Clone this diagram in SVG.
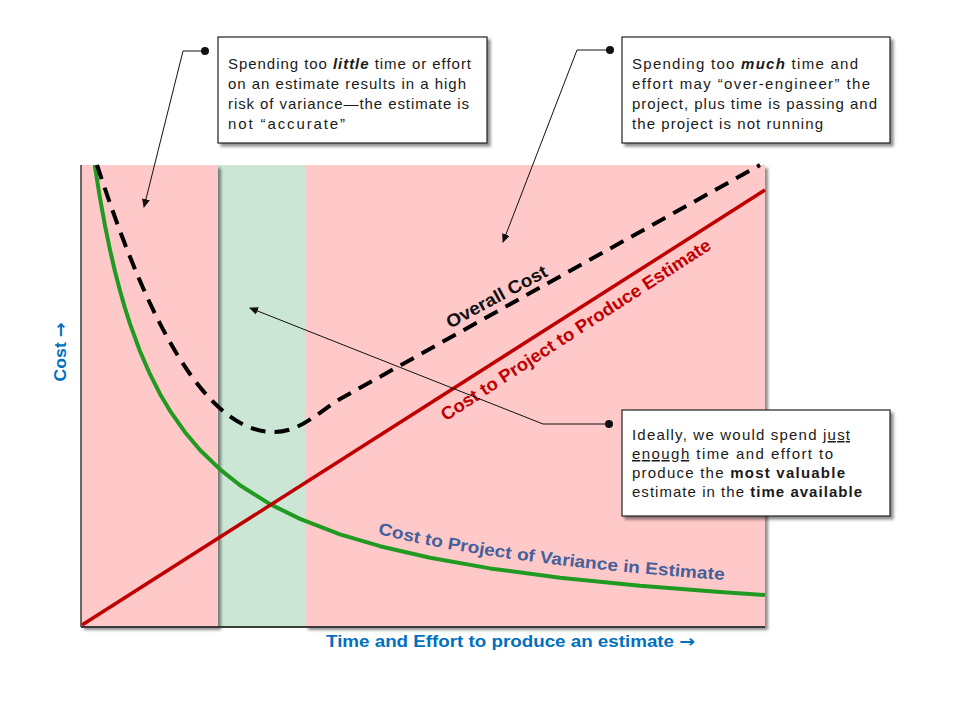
<svg xmlns="http://www.w3.org/2000/svg" width="960" height="720" viewBox="0 0 960 720">
<style>
.box{fill:#fff;stroke:#222;stroke-width:1.2}
.bt{font-family:"Liberation Sans",Arial,sans-serif;font-size:15px;fill:#1a1a1a}
.b{font-weight:bold}
.bi{font-weight:bold;font-style:italic}
.u{text-decoration:underline}
.conn{fill:none;stroke:#111;stroke-width:1}
.lbl{font-family:"Liberation Sans",Arial,sans-serif;font-weight:bold}
.arr{font-family:"DejaVu Sans",sans-serif;font-weight:bold}
</style>
<defs>
<filter id="sh" x="-5%" y="-5%" width="115%" height="115%">
<feDropShadow dx="3" dy="3" stdDeviation="1.5" flood-color="#000" flood-opacity="0.45"/>
</filter>
<marker id="ah" markerWidth="9" markerHeight="8" refX="8" refY="4" orient="auto" markerUnits="userSpaceOnUse">
<path d="M0,0 L9,4 L0,8 z" fill="#111"/>
</marker>
<path id="vpath" d="M375,533 Q493,564 725,580"/>
</defs>
<rect width="960" height="720" fill="#fff"/>

<g id="plot">
<rect x="218" y="165" width="87" height="462" fill="#cce6d6"/>
<rect x="81" y="165" width="137" height="462" fill="#ffc9c9" filter="url(#sh)"/>
<rect x="305" y="165" width="460" height="462" fill="#ffc9c9" filter="url(#sh)"/>
<line x1="81" y1="627" x2="765" y2="627" stroke="#3a3a3a" stroke-width="2"/>
<line x1="81" y1="165" x2="81" y2="627" stroke="#3a3a3a" stroke-width="1.5"/>
</g>

<g id="curves">
<polyline fill="none" stroke="#219a21" stroke-width="4" stroke-linejoin="round" points="94.7,165 100,198.2 105,225.7 110,249.9 115,271.5 120,290.8 125,308.1 130,323.9 140,351.2 150,374.2 160,393.9 170,410.8 185,432.2 200,450 220,469.4 240,485.2 270,504.1 300,518.9 340,534.3 380,546.2 430,557.8 490,568.4 560,577.7 640,585.8 720,592 765,595"/>
<line x1="82" y1="625" x2="765" y2="190" stroke="#c00000" stroke-width="3.5"/>
<path d="M97,165 C130,265 190,430 272,432 C300,433 318,412 340,399 L760,165" fill="none" stroke="#000" stroke-width="4" stroke-dasharray="15 9"/>
</g>

<g id="labels">
<text class="lbl" x="499.5" y="302" font-size="18" fill="#111" text-anchor="middle" textLength="112" lengthAdjust="spacingAndGlyphs" transform="rotate(-28.4 499.5 302)">Overall Cost</text>
<text class="lbl" x="579" y="335" font-size="18" fill="#c00000" text-anchor="middle" textLength="318" lengthAdjust="spacingAndGlyphs" transform="rotate(-33 579 335)">Cost to Project to Produce Estimate</text>
<text class="lbl" font-size="17" fill="#44609a"><textPath href="#vpath" startOffset="3" textLength="350" lengthAdjust="spacingAndGlyphs">Cost to Project of Variance in Estimate</textPath></text>
<text class="lbl" x="66" y="352" font-size="17" fill="#0070c0" text-anchor="middle" textLength="59" lengthAdjust="spacingAndGlyphs" transform="rotate(-90 66 352)">Cost <tspan class="arr">→</tspan></text>
<text class="lbl" x="326" y="647" font-size="17" fill="#0070c0" textLength="369" lengthAdjust="spacingAndGlyphs">Time and Effort to produce an estimate <tspan class="arr">→</tspan></text>
</g>

<g id="connectors">
<polyline class="conn" points="205,51 183,51 144,207" marker-end="url(#ah)"/>
<circle cx="205" cy="51" r="4" fill="#111"/>
<polyline class="conn" points="610,50 577,50 503,242" marker-end="url(#ah)"/>
<circle cx="610" cy="50" r="4" fill="#111"/>
<polyline class="conn" points="609,424 543,424 250,308" marker-end="url(#ah)"/>
<circle cx="609" cy="424" r="4" fill="#111"/>
</g>

<g id="callout-little">
<rect class="box" x="218" y="37" width="269" height="106" filter="url(#sh)"/>
<text class="bt" x="228" y="69" textLength="243" lengthAdjust="spacing">Spending too <tspan class="bi">little</tspan> time or effort</text>
<text class="bt" x="228" y="89" textLength="238" lengthAdjust="spacing">on an estimate results in a high</text>
<text class="bt" x="228" y="109" textLength="241" lengthAdjust="spacing">risk of variance—the estimate is</text>
<text class="bt" x="228" y="129" textLength="117" lengthAdjust="spacing">not “accurate”</text>
</g>

<g id="callout-much">
<rect class="box" x="622" y="37" width="268" height="106" filter="url(#sh)"/>
<text class="bt" x="632" y="69" textLength="226" lengthAdjust="spacing">Spending too <tspan class="bi">much</tspan> time and</text>
<text class="bt" x="632" y="89" textLength="238" lengthAdjust="spacing">effort may “over-engineer” the</text>
<text class="bt" x="632" y="109" textLength="245" lengthAdjust="spacing">project, plus time is passing and</text>
<text class="bt" x="632" y="129" textLength="191" lengthAdjust="spacing">the project is not running</text>
</g>

<g id="callout-ideal">
<rect class="box" x="622" y="410" width="268" height="106" filter="url(#sh)"/>
<text class="bt" x="632" y="440" textLength="218" lengthAdjust="spacing">Ideally, we would spend <tspan class="u">just</tspan></text>
<text class="bt" x="632" y="459" textLength="201" lengthAdjust="spacing"><tspan class="u">enough</tspan> time and effort to</text>
<text class="bt" x="632" y="478" textLength="213" lengthAdjust="spacing">produce the <tspan class="b">most valuable</tspan></text>
<text class="bt" x="632" y="497" textLength="230" lengthAdjust="spacing">estimate in the <tspan class="b">time available</tspan></text>
</g>
</svg>
